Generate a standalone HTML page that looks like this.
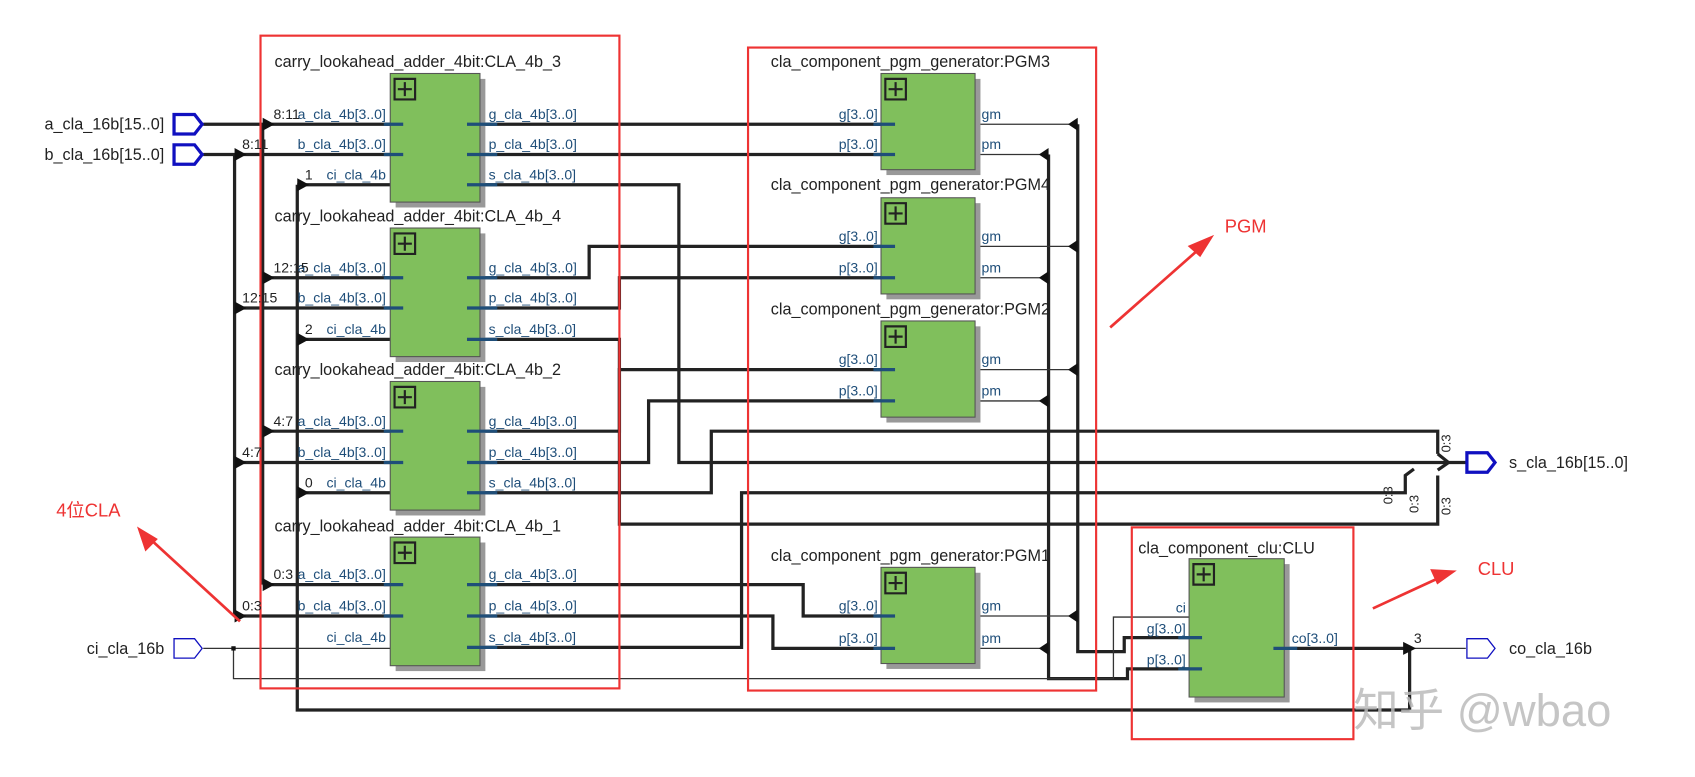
<!DOCTYPE html><html><head><meta charset="utf-8"><style>body{margin:0;background:#fff}svg{display:block}</style></head><body>
<svg width="1695" height="777" viewBox="0 0 1568 719" preserveAspectRatio="none" xmlns="http://www.w3.org/2000/svg" font-family="'Liberation Sans','Noto Sans CJK SC',sans-serif">
<rect width="1568" height="719" fill="#fff"/>
<g fill="none" stroke="#222" stroke-width="3">
<path d="M188 115H361M243 115V541M243 257H361M243 399H361M243 541H361"/>
<path d="M188 143H361M217 143V570M217 285H361M217 428H361M217 570H361"/>
<path d="M275 171V657H1304M275 171H361M275 314H361M275 456H361"/>
<path d="M444 115H815M444 143H815M444 171H628V428H1340"/>
<path d="M444 257H545V228H815M444 285H573V257H815M444 314H573V485H1330V440"/>
<path d="M444 399H573V342H815M444 428H600V371H815M444 456H658V399H1330V420"/>
<path d="M444 541H743V570H815M444 570H715V600H815M444 599H686V456H1300V440L1308 434"/>
<path d="M1330 420L1340 428L1330 435M1340 428H1356"/>
<path d="M997 115V603H1040V590H1100M970 143V628H1043V619H1100"/>
<path d="M1188 600H1304V657"/>
</g>
<g fill="none" stroke="#333" stroke-width="1.2">
<path d="M188 600H361M216 600V628H1030V571H1100M1304 600H1356"/>
<path d="M902 115H997M902 143H970M902 228H997M902 257H970M902 342H997M902 371H970M902 570H997M902 600H970"/>
</g>
<g fill="#111">
<path d="M243 109L254 115L243 121ZM217 137L228 143L217 149ZM275 165L286 171L275 177ZM243 251L254 257L243 263ZM217 279L228 285L217 291ZM275 308L286 314L275 320ZM243 393L254 399L243 405ZM217 422L228 428L217 434ZM275 450L286 456L275 462ZM243 535L254 541L243 547ZM217 564L228 570L217 576ZM1298 594L1310 600L1298 606Z"/>
<path d="M997 109L988 115L997 121ZM970 137L961 143L970 149ZM997 222L988 228L997 234ZM970 251L961 257L970 263ZM997 336L988 342L997 348ZM970 365L961 371L970 377ZM997 564L988 570L997 576ZM970 594L961 600L970 606Z"/>
<rect x="214" y="598" width="4" height="4"/>
</g>
<g fill="none" stroke="#e33" stroke-width="2">
<rect x="241" y="33" width="332" height="604"/><rect x="692" y="44" width="322" height="595"/><rect x="1047" y="488" width="205" height="196"/>
</g>
<g fill="#999"><rect x="366" y="73" width="83" height="119"/><rect x="366" y="216" width="83" height="119"/><rect x="366" y="358" width="83" height="119"/><rect x="366" y="502" width="83" height="119"/>
<rect x="820" y="73" width="87" height="89"/><rect x="820" y="188" width="87" height="89"/><rect x="820" y="302" width="87" height="89"/><rect x="820" y="530" width="87" height="89"/><rect x="1105" y="522" width="88" height="128"/></g>
<g fill="#80bf5c" stroke="#555" stroke-width="1"><rect x="361" y="68" width="83" height="119"/><rect x="361" y="211" width="83" height="119"/><rect x="361" y="353" width="83" height="119"/><rect x="361" y="497" width="83" height="119"/>
<rect x="815" y="68" width="87" height="89"/><rect x="815" y="183" width="87" height="89"/><rect x="815" y="297" width="87" height="89"/><rect x="815" y="525" width="87" height="89"/><rect x="1100" y="517" width="88" height="128"/></g>
<g fill="none" stroke="#222" stroke-width="2">
<path d="M365 73h19v19h-19zM374.5 76v13M368 82.5h13M365 216h19v19h-19zM374.5 219v13M368 225.5h13M365 358h19v19h-19zM374.5 361v13M368 367.5h13M365 502h19v19h-19zM374.5 505v13M368 511.5h13"/>
<path d="M819 73h19v19h-19zM828.5 76v13M822 82.5h13M819 188h19v19h-19zM828.5 191v13M822 197.5h13M819 302h19v19h-19zM828.5 305v13M822 311.5h13M819 530h19v19h-19zM828.5 533v13M822 539.5h13M1104 522h19v19h-19zM1113.5 525v13M1107 531.5h13"/>
</g>
<g stroke="#1f4e79" stroke-width="3">
<path d="M355 115h18M355 143h18M432 115h28M432 143h28M432 171h28M355 257h18M355 285h18M432 257h28M432 285h28M432 314h28M355 399h18M355 428h18M432 399h28M432 428h28M432 456h28M355 541h18M355 570h18M432 541h28M432 570h28M432 599h28"/>
<path d="M808 115h20M808 143h20M808 228h20M808 257h20M808 342h20M808 371h20M808 570h20M808 600h20M1090 590h22M1090 619h22M1178 600h22"/>
</g>
<g fill="#1f4e79" font-size="13">
<g text-anchor="end"><text x="357" y="110">a_cla_4b[3..0]</text><text x="357" y="138">b_cla_4b[3..0]</text><text x="357" y="166">ci_cla_4b</text>
<text x="357" y="252">a_cla_4b[3..0]</text><text x="357" y="280">b_cla_4b[3..0]</text><text x="357" y="309">ci_cla_4b</text>
<text x="357" y="394">a_cla_4b[3..0]</text><text x="357" y="423">b_cla_4b[3..0]</text><text x="357" y="451">ci_cla_4b</text>
<text x="357" y="536">a_cla_4b[3..0]</text><text x="357" y="565">b_cla_4b[3..0]</text><text x="357" y="594">ci_cla_4b</text>
<text x="812" y="110">g[3..0]</text><text x="812" y="138">p[3..0]</text><text x="812" y="223">g[3..0]</text><text x="812" y="252">p[3..0]</text><text x="812" y="337">g[3..0]</text><text x="812" y="366">p[3..0]</text><text x="812" y="565">g[3..0]</text><text x="812" y="595">p[3..0]</text>
<text x="1097" y="567">ci</text><text x="1097" y="586">g[3..0]</text><text x="1097" y="615">p[3..0]</text></g>
<text x="452" y="110">g_cla_4b[3..0]</text><text x="452" y="138">p_cla_4b[3..0]</text><text x="452" y="166">s_cla_4b[3..0]</text>
<text x="452" y="252">g_cla_4b[3..0]</text><text x="452" y="280">p_cla_4b[3..0]</text><text x="452" y="309">s_cla_4b[3..0]</text>
<text x="452" y="394">g_cla_4b[3..0]</text><text x="452" y="423">p_cla_4b[3..0]</text><text x="452" y="451">s_cla_4b[3..0]</text>
<text x="452" y="536">g_cla_4b[3..0]</text><text x="452" y="565">p_cla_4b[3..0]</text><text x="452" y="594">s_cla_4b[3..0]</text>
<text x="908" y="110">gm</text><text x="908" y="138">pm</text><text x="908" y="223">gm</text><text x="908" y="252">pm</text><text x="908" y="337">gm</text><text x="908" y="366">pm</text><text x="908" y="565">gm</text><text x="908" y="595">pm</text>
<text x="1195" y="595">co[3..0]</text>
</g>
<g fill="#222" font-size="13">
<text x="253" y="110">8:11</text><text x="224" y="138">8:11</text><text x="282" y="166">1</text>
<text x="253" y="252">12:15</text><text x="224" y="280">12:15</text><text x="282" y="309">2</text>
<text x="253" y="394">4:7</text><text x="224" y="423">4:7</text><text x="282" y="451">0</text>
<text x="253" y="536">0:3</text><text x="224" y="565">0:3</text><text x="1308" y="595">3</text>
<text transform="translate(1342 400) rotate(-90)" font-size="12" text-anchor="end" x="-2">0:3</text>
<text transform="translate(1342 430) rotate(-90)" font-size="12" text-anchor="end" x="-30">0:3</text>
<text transform="translate(1312 430) rotate(-90)" font-size="12" text-anchor="end" x="-28">0:3</text>
<text transform="translate(1288 430) rotate(-90)" font-size="12" text-anchor="end" x="-20">0:3</text>
</g>
<g fill="#222" font-size="15">
<text x="254" y="62">carry_lookahead_adder_4bit:CLA_4b_3</text><text x="254" y="205">carry_lookahead_adder_4bit:CLA_4b_4</text><text x="254" y="347">carry_lookahead_adder_4bit:CLA_4b_2</text><text x="254" y="492">carry_lookahead_adder_4bit:CLA_4b_1</text>
<text x="713" y="62">cla_component_pgm_generator:PGM3</text><text x="713" y="176">cla_component_pgm_generator:PGM4</text><text x="713" y="291">cla_component_pgm_generator:PGM2</text><text x="713" y="519">cla_component_pgm_generator:PGM1</text>
<text x="1053" y="512">cla_component_clu:CLU</text>
<g text-anchor="end"><text x="152" y="120">a_cla_16b[15..0]</text><text x="152" y="148">b_cla_16b[15..0]</text><text x="152" y="605">ci_cla_16b</text></g>
<text x="1396" y="433">s_cla_16b[15..0]</text><text x="1396" y="605">co_cla_16b</text>
</g>
<g fill="#fff" stroke="#1010c0" stroke-width="3"><path d="M161 106h19l7 9-7 9h-19zM161 134h19l7 9-7 9h-19zM1357 419h19l7 9-7 9h-19z"/></g>
<g fill="#fff" stroke="#1010c0" stroke-width="1.2"><path d="M161 591h19l7 9-7 9h-19zM1357 591h19l7 9-7 9h-19z"/></g>
<g stroke="#e33" stroke-width="2.5" fill="#e33">
<path d="M1027 303L1112 228" fill="none"/><path d="M1120 220L1101 228L1110 236Z"/>
<path d="M1270 563L1335 533" fill="none"/><path d="M1344 529L1325 528L1330 539Z"/>
<path d="M222 575L137 497" fill="none"/><path d="M129 490L135 508L144 499Z"/>
</g>
<g fill="#e33" font-size="17"><text x="1133" y="215">PGM</text><text x="1367" y="532">CLU</text><text x="52" y="478">4位CLA</text></g>
<text x="1252" y="672" font-size="42" fill="#bbb" fill-opacity="0.85">知乎 @wbao</text>
</svg>
</body></html>
